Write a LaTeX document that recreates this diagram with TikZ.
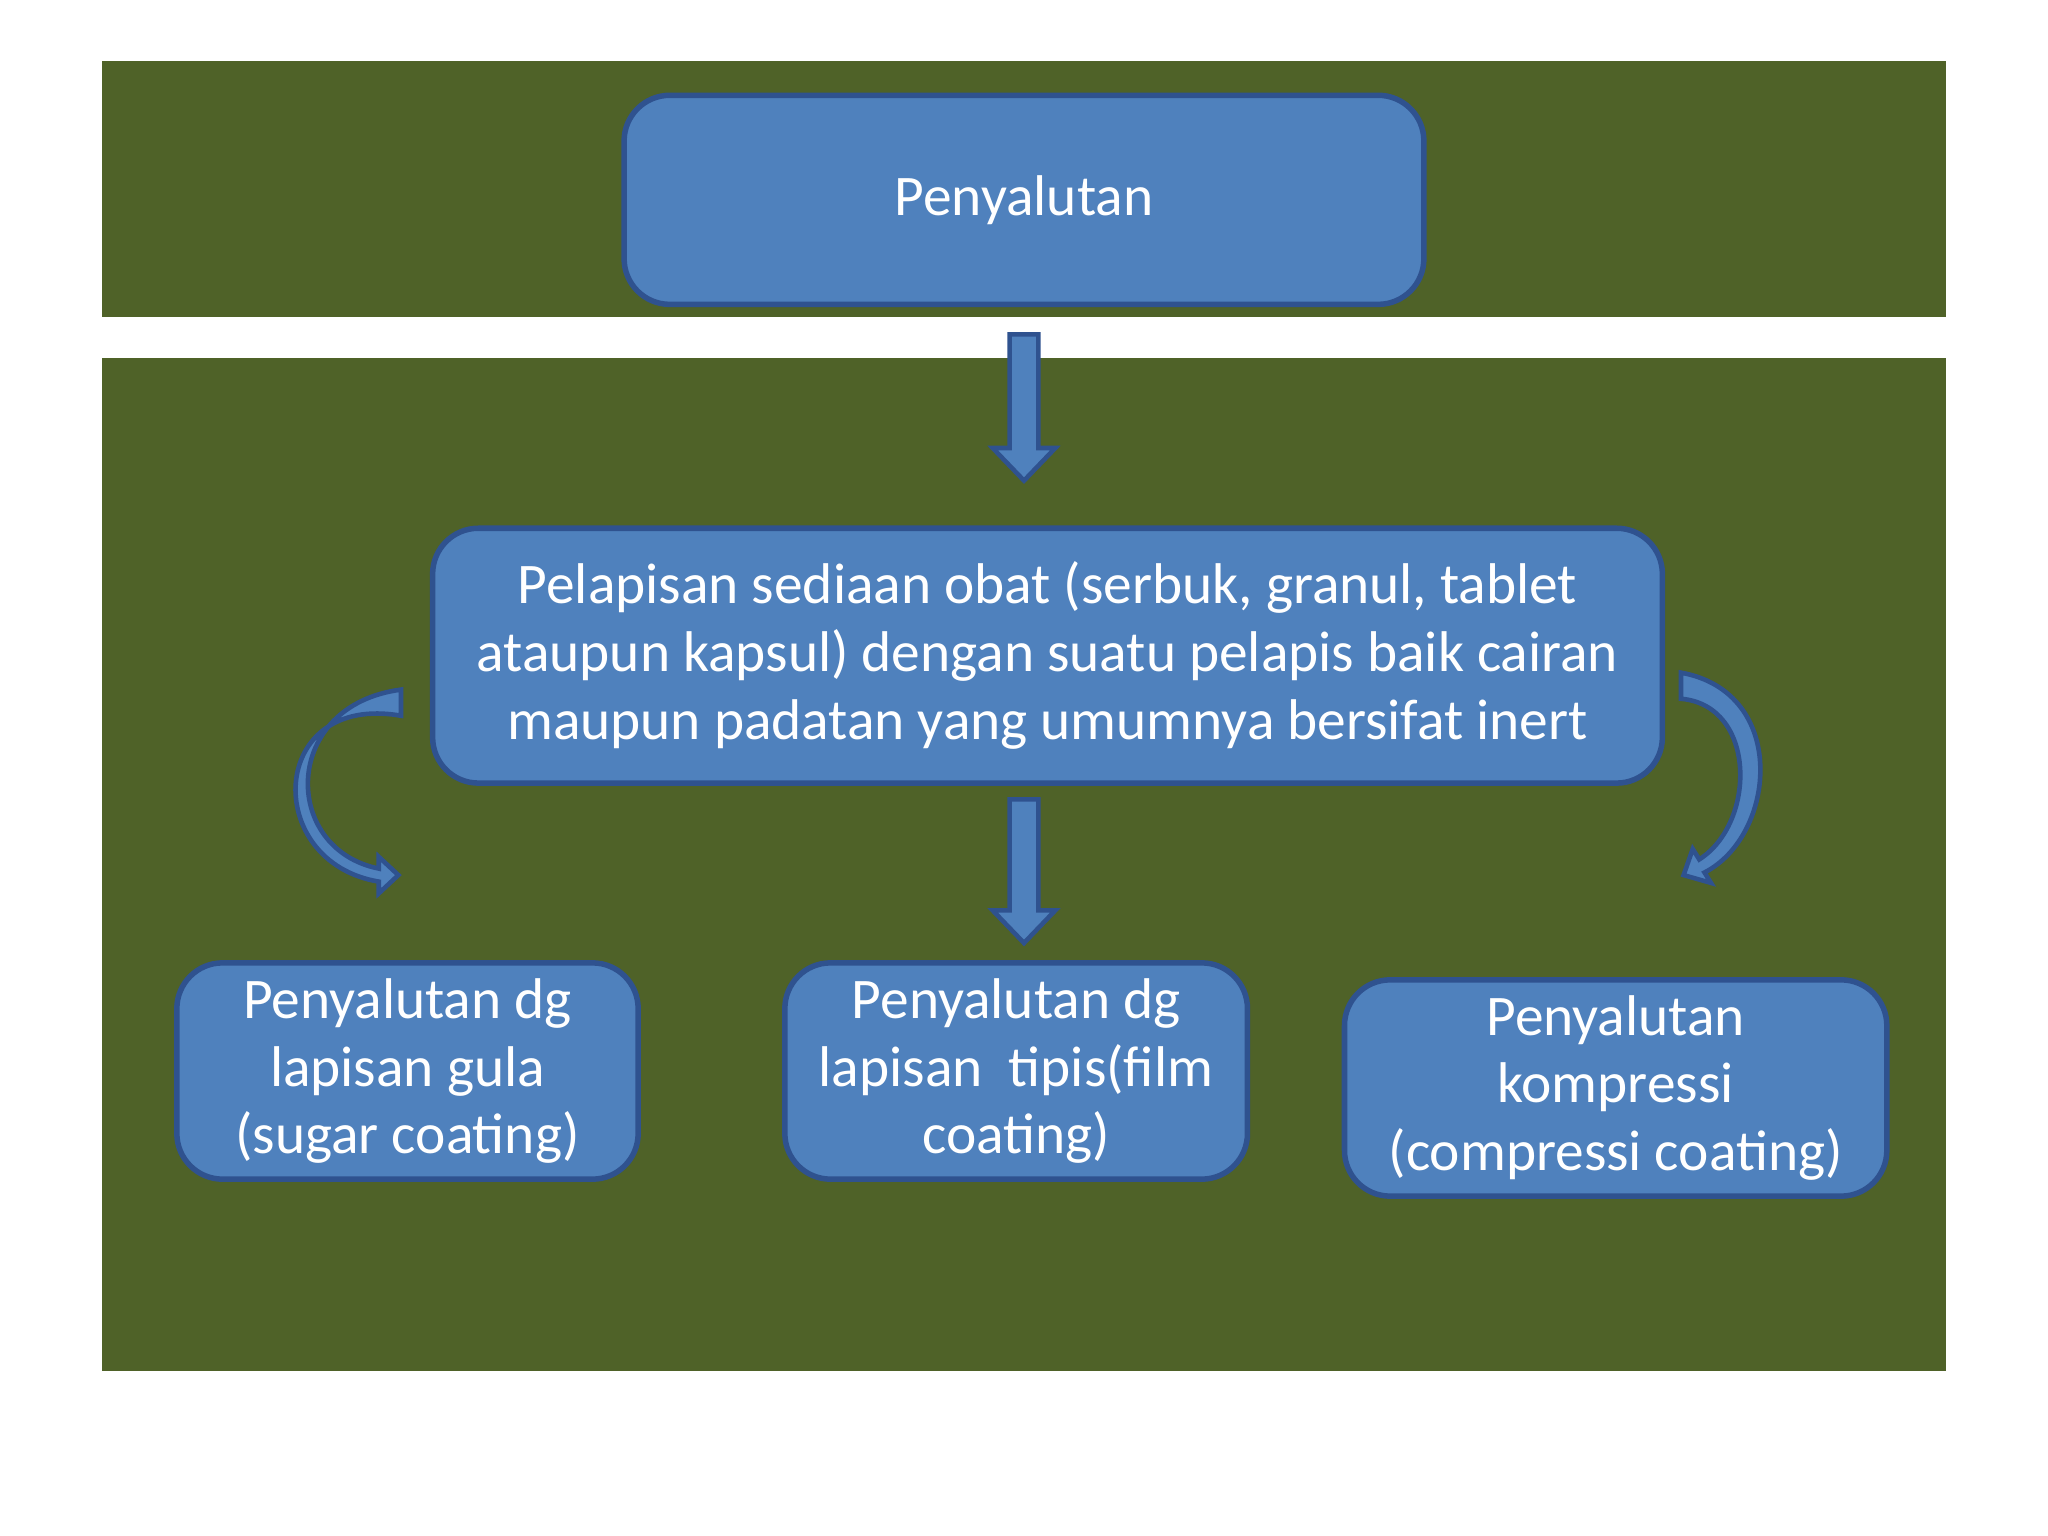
\documentclass[tikz,border=0pt]{standalone}
\usepackage{fontspec}
\setmainfont{Carlito}
\usetikzlibrary{arrows.meta}
\definecolor{bg}{HTML}{4F6228}
\definecolor{bx}{HTML}{4F81BD}
\definecolor{bd}{HTML}{2F528F}
\tikzset{box/.style={draw=bd,line width=1.2pt,fill=bx,rounded corners=0.35cm,text=white,align=center,font=\fontsize{12.5}{14.8}\selectfont},
blk/.style={draw=bd,line width=1pt,fill=bx}}
\begin{document}
\begin{tikzpicture}[x=0.01cm,y=-0.01cm]
\useasboundingbox (0,0) rectangle (1568,1176);
\fill[white] (0,0) rectangle (1568,1176);
\fill[bg] (78,47) rectangle (1490,243);
\fill[bg] (78,274) rectangle (1490,1050);
\node[box,minimum width=6.12cm,minimum height=1.6cm] (top) at (784,153) {Penyalutan};
\node[box,minimum width=9.41cm,minimum height=1.95cm] (mid) at (802,502) {Pelapisan sediaan obat (serbuk, granul, tablet\\ataupun kapsul) dengan suatu pelapis baik cairan\\maupun padatan yang umumnya bersifat inert};
\node[box,minimum width=3.53cm,minimum height=1.47cm] (b1) at (312,820) {Penyalutan dg\\lapisan gula\\(sugar coating)};
\node[box,minimum width=3.54cm,minimum height=1.47cm] (b2) at (778,820) {Penyalutan dg\\lapisan\ \ tipis(film\\coating)};
\node[box,minimum width=4.15cm,minimum height=1.47cm] (b3) at (1237,833) {Penyalutan\\kompressi\\(compressi coating)};
\draw[blk] (773,256)--(795,256)--(795,343)--(808,343)--(784,368)--(760,343)--(773,343)--cycle;
\draw[blk] (773,612)--(795,612)--(795,697)--(808,697)--(784,722)--(760,697)--(773,697)--cycle;
\draw[blk] (307,528) .. controls (215,540) and (215,650) .. (290,665)--(290,656)--(305,670)--(290,684)--(290,675) .. controls (200,660) and (205,530) .. (307,548)--cycle;
\draw[blk] (1287,515) .. controls (1370,530) and (1360,640) .. (1305,668)--(1310,676)--(1289,670)--(1296,650)--(1301,658) .. controls (1345,630) and (1345,540) .. (1287,535)--cycle;
\end{tikzpicture}
\end{document}
